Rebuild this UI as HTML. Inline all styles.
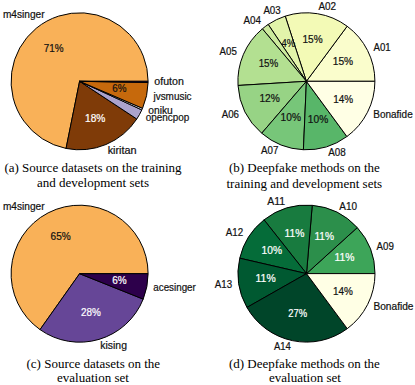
<!DOCTYPE html>
<html><head><meta charset="utf-8"><style>
html,body{margin:0;padding:0;background:#fff;}
svg{display:block;}
.s text{font-family:"Liberation Sans",sans-serif;font-size:10.0px;stroke-width:0.2px;}
.c text{font-family:"Liberation Serif",serif;font-size:13px;fill:#000;}
</style></head><body>
<svg width="415" height="385" viewBox="0 0 415 385">
<rect width="415" height="385" fill="#fff"/>
<g>
<path d="M79.60,81.30 L148.10,81.30 A68.5,68.5 0 1 0 66.06,148.45 Z" fill="#f9b158" stroke="#000" stroke-width="1.0" stroke-linejoin="round"/>
<path d="M79.60,81.30 L66.06,148.45 A68.5,68.5 0 0 0 136.79,119.01 Z" fill="#7f3b08" stroke="#000" stroke-width="1.0" stroke-linejoin="round"/>
<path d="M79.60,81.30 L136.79,119.01 A68.5,68.5 0 0 0 141.83,109.92 Z" fill="#aba3cd" stroke="#000" stroke-width="1.0" stroke-linejoin="round"/>
<path d="M79.60,81.30 L141.83,109.92 A68.5,68.5 0 0 0 142.56,108.29 Z" fill="#e1e2ee" stroke="#000" stroke-width="1.0" stroke-linejoin="round"/>
<path d="M79.60,81.30 L142.56,108.29 A68.5,68.5 0 0 0 148.09,82.50 Z" fill="#c6690c" stroke="#000" stroke-width="1.0" stroke-linejoin="round"/>
<path d="M79.60,81.30 L148.09,82.50 A68.5,68.5 0 0 0 148.10,81.30 Z" fill="#542788" stroke="#000" stroke-width="1.0" stroke-linejoin="round"/>
<path d="M306.40,81.30 L374.90,81.30 A68.5,68.5 0 0 0 347.15,26.24 Z" fill="#fafdcc" stroke="#000" stroke-width="1.0" stroke-linejoin="round"/>
<path d="M306.40,81.30 L347.15,26.24 A68.5,68.5 0 0 0 285.23,16.15 Z" fill="#f3fab6" stroke="#000" stroke-width="1.0" stroke-linejoin="round"/>
<path d="M306.40,81.30 L285.23,16.15 A68.5,68.5 0 0 0 268.19,24.44 Z" fill="#e2f4aa" stroke="#000" stroke-width="1.0" stroke-linejoin="round"/>
<path d="M306.40,81.30 L268.19,24.44 A68.5,68.5 0 0 0 262.37,28.83 Z" fill="#ccea9d" stroke="#000" stroke-width="1.0" stroke-linejoin="round"/>
<path d="M306.40,81.30 L262.37,28.83 A68.5,68.5 0 0 0 238.03,85.48 Z" fill="#b3e091" stroke="#000" stroke-width="1.0" stroke-linejoin="round"/>
<path d="M306.40,81.30 L238.03,85.48 A68.5,68.5 0 0 0 261.73,133.23 Z" fill="#97d385" stroke="#000" stroke-width="1.0" stroke-linejoin="round"/>
<path d="M306.40,81.30 L261.73,133.23 A68.5,68.5 0 0 0 303.41,149.73 Z" fill="#77c679" stroke="#000" stroke-width="1.0" stroke-linejoin="round"/>
<path d="M306.40,81.30 L303.41,149.73 A68.5,68.5 0 0 0 346.90,136.54 Z" fill="#58b669" stroke="#000" stroke-width="1.0" stroke-linejoin="round"/>
<path d="M306.40,81.30 L346.90,136.54 A68.5,68.5 0 0 0 374.90,81.30 Z" fill="#ffffe5" stroke="#000" stroke-width="1.0" stroke-linejoin="round"/>
<path d="M79.60,273.70 L148.10,273.70 A68.5,68.5 0 1 0 40.02,329.61 Z" fill="#f9b158" stroke="#000" stroke-width="1.0" stroke-linejoin="round"/>
<path d="M79.60,273.70 L40.02,329.61 A68.5,68.5 0 0 0 143.20,299.14 Z" fill="#664697" stroke="#000" stroke-width="1.0" stroke-linejoin="round"/>
<path d="M79.60,273.70 L143.20,299.14 A68.5,68.5 0 0 0 148.10,273.70 Z" fill="#2d004b" stroke="#000" stroke-width="1.0" stroke-linejoin="round"/>
<path d="M306.50,273.60 L375.00,273.60 A68.5,68.5 0 0 0 357.25,227.59 Z" fill="#3da559" stroke="#000" stroke-width="1.0" stroke-linejoin="round"/>
<path d="M306.50,273.60 L357.25,227.59 A68.5,68.5 0 0 0 312.23,205.34 Z" fill="#2c8f4b" stroke="#000" stroke-width="1.0" stroke-linejoin="round"/>
<path d="M306.50,273.60 L312.23,205.34 A68.5,68.5 0 0 0 264.05,219.84 Z" fill="#187b3f" stroke="#000" stroke-width="1.0" stroke-linejoin="round"/>
<path d="M306.50,273.60 L264.05,219.84 A68.5,68.5 0 0 0 239.76,258.19 Z" fill="#056c39" stroke="#000" stroke-width="1.0" stroke-linejoin="round"/>
<path d="M306.50,273.60 L239.76,258.19 A68.5,68.5 0 0 0 246.94,307.44 Z" fill="#005931" stroke="#000" stroke-width="1.0" stroke-linejoin="round"/>
<path d="M306.50,273.60 L246.94,307.44 A68.5,68.5 0 0 0 347.25,328.66 Z" fill="#004529" stroke="#000" stroke-width="1.0" stroke-linejoin="round"/>
<path d="M306.50,273.60 L347.25,328.66 A68.5,68.5 0 0 0 375.00,273.60 Z" fill="#ffffe5" stroke="#000" stroke-width="1.0" stroke-linejoin="round"/>
</g>
<g class="s">
<text transform="translate(2.93,17.90) scale(1.015,1)" fill="#111" stroke="#111">m4singer</text>
<text transform="translate(154.35,84.80) scale(1.062,1)" fill="#111" stroke="#111">ofuton</text>
<text transform="translate(153.44,99.90) scale(0.997,1)" fill="#111" stroke="#111">jvsmusic</text>
<text transform="translate(148.27,114.30) scale(1.025,1)" fill="#111" stroke="#111">oniku</text>
<text transform="translate(145.78,120.80) scale(0.993,1)" fill="#111" stroke="#111">opencpop</text>
<text transform="translate(107.67,153.70) scale(1.085,1)" fill="#111" stroke="#111">kiritan</text>
<text transform="translate(43.69,51.60) scale(0.992,1)" fill="#111" stroke="#111">71%</text>
<text transform="translate(112.30,91.90) scale(0.986,1)" fill="#111" stroke="#111">6%</text>
<text transform="translate(85.03,121.60) scale(1.016,1)" fill="#fff" stroke="#fff" stroke-width="0.12">18%</text>
<text transform="translate(373.48,50.60) scale(0.966,1)" fill="#111" stroke="#111">A01</text>
<text transform="translate(318.38,10.30) scale(0.996,1)" fill="#111" stroke="#111">A02</text>
<text transform="translate(263.38,14.00) scale(0.975,1)" fill="#111" stroke="#111">A03</text>
<text transform="translate(243.48,24.10) scale(0.984,1)" fill="#111" stroke="#111">A04</text>
<text transform="translate(219.58,54.85) scale(0.974,1)" fill="#111" stroke="#111">A05</text>
<text transform="translate(221.68,117.50) scale(0.975,1)" fill="#111" stroke="#111">A06</text>
<text transform="translate(260.98,154.00) scale(0.979,1)" fill="#111" stroke="#111">A07</text>
<text transform="translate(328.18,155.90) scale(0.986,1)" fill="#111" stroke="#111">A08</text>
<text transform="translate(373.28,117.70) scale(0.999,1)" fill="#111" stroke="#111">Bonafide</text>
<text transform="translate(332.72,65.10) scale(1.021,1)" fill="#111" stroke="#111">15%</text>
<text transform="translate(302.54,43.10) scale(1.005,1)" fill="#111" stroke="#111">15%</text>
<text transform="translate(281.48,46.70) scale(0.952,1)" fill="#111" stroke="#111">4%</text>
<text transform="translate(258.65,67.40) scale(0.984,1)" fill="#111" stroke="#111">15%</text>
<text transform="translate(259.42,101.60) scale(1.021,1)" fill="#111" stroke="#111">12%</text>
<text transform="translate(280.62,121.40) scale(1.021,1)" fill="#111" stroke="#111">10%</text>
<text transform="translate(307.83,122.70) scale(1.016,1)" fill="#111" stroke="#111">10%</text>
<text transform="translate(333.14,102.50) scale(0.995,1)" fill="#111" stroke="#111">14%</text>
<text transform="translate(2.93,209.80) scale(1.015,1)" fill="#111" stroke="#111">m4singer</text>
<text transform="translate(153.29,290.50) scale(0.982,1)" fill="#111" stroke="#111">acesinger</text>
<text transform="translate(100.30,348.80) scale(1.043,1)" fill="#111" stroke="#111">kising</text>
<text transform="translate(50.59,239.70) scale(1.008,1)" fill="#111" stroke="#111">65%</text>
<text transform="translate(112.29,284.15) scale(1.001,1)" fill="#fff" stroke="#fff" stroke-width="0.12">6%</text>
<text transform="translate(81.00,315.80) scale(0.992,1)" fill="#fff" stroke="#fff" stroke-width="0.12">28%</text>
<text transform="translate(376.58,249.55) scale(0.977,1)" fill="#111" stroke="#111">A09</text>
<text transform="translate(339.28,209.55) scale(0.995,1)" fill="#111" stroke="#111">A10</text>
<text transform="translate(267.18,204.70) scale(1.052,1)" fill="#111" stroke="#111">A11</text>
<text transform="translate(225.78,236.30) scale(0.979,1)" fill="#111" stroke="#111">A12</text>
<text transform="translate(214.78,287.50) scale(0.975,1)" fill="#111" stroke="#111">A13</text>
<text transform="translate(273.98,350.30) scale(0.950,1)" fill="#111" stroke="#111">A14</text>
<text transform="translate(373.47,310.10) scale(1.015,1)" fill="#111" stroke="#111">Bonafide</text>
<text transform="translate(334.61,261.30) scale(1.035,1)" fill="#fff" stroke="#fff" stroke-width="0.12">11%</text>
<text transform="translate(314.43,239.60) scale(1.019,1)" fill="#fff" stroke="#fff" stroke-width="0.12">11%</text>
<text transform="translate(284.51,236.70) scale(1.035,1)" fill="#fff" stroke="#fff" stroke-width="0.12">11%</text>
<text transform="translate(261.62,254.05) scale(1.021,1)" fill="#fff" stroke="#fff" stroke-width="0.12">10%</text>
<text transform="translate(255.61,282.00) scale(1.041,1)" fill="#fff" stroke="#fff" stroke-width="0.12">11%</text>
<text transform="translate(288.33,316.50) scale(0.945,1)" fill="#fff" stroke="#fff" stroke-width="0.12">27%</text>
<text transform="translate(333.04,294.60) scale(0.997,1)" fill="#111" stroke="#111">14%</text>
</g>
<g class="c">
<text x="93" y="172.1" text-anchor="middle">(a) Source datasets on the training</text>
<text x="93" y="187.3" text-anchor="middle">and development sets</text>
<text x="304.4" y="172.3" text-anchor="middle">(b) Deepfake methods on the</text>
<text x="304.3" y="187.6" text-anchor="middle">training and development sets</text>
<text x="93.3" y="367.7" text-anchor="middle">(c) Source datasets on the</text>
<text x="93" y="381.5" text-anchor="middle">evaluation set</text>
<text x="304.4" y="367.7" text-anchor="middle">(d) Deepfake methods on the</text>
<text x="305" y="381.5" text-anchor="middle">evaluation set</text>
</g>
</svg>
</body></html>
